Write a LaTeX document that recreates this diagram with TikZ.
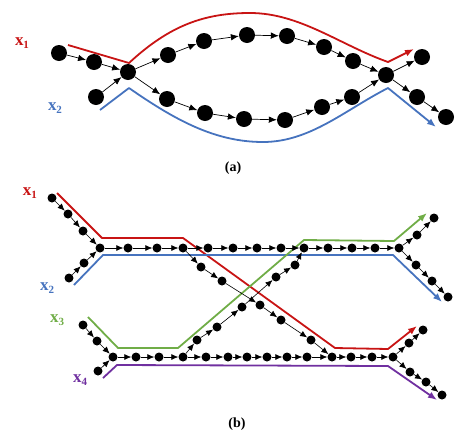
\documentclass[tikz,border=0pt]{standalone}
\usepackage{fontspec}
\setmainfont{Liberation Serif}
\usepackage{tikz}
\usetikzlibrary{arrows.meta}
\definecolor{flowred}{RGB}{200,20,20}
\definecolor{flowblue}{RGB}{70,115,190}
\definecolor{flowgreen}{RGB}{112,173,71}
\definecolor{flowpurple}{RGB}{112,48,160}
\newcommand{\flowlab}[1]{x\raisebox{-0.3ex}{\fontsize{11}{12}\selectfont #1}}

\begin{document}
\begin{tikzpicture}[x=1pt, y=-1pt, >=Latex,
  bigdot/.style={circle,fill=black,inner sep=0pt,minimum size=16pt},
  smalldot/.style={circle,fill=black,inner sep=0pt,minimum size=9pt},
  bigarr/.style={->,>={Latex[length=8pt,width=6.5pt]},line width=0.7pt},
  smallarr/.style={->,>={Latex[length=7pt,width=6pt]},line width=0.6pt},
  flow/.style={line width=1.8pt,line join=round},
  flowarr/.style={flow,->,>={Latex[length=9pt,width=7pt]}},
  lab/.style={font=\bfseries\fontsize{17}{19}\selectfont},
  captext/.style={font=\bfseries\fontsize{14}{16}\selectfont}]
  \useasboundingbox (0,0) rectangle (474,437);

  % (a) flows
  \draw[flowarr,flowred] (68,45) -- (129,63) .. controls (170,25) and (205,13) .. (250,13)
    .. controls (300,13) and (340,45) .. (388,62) -- (414,49);
  \draw[flowarr,flowblue] (100,110) -- (129,88) .. controls (175,120) and (215,142) .. (263,142)
    .. controls (310,142) and (345,110) .. (388,88) -- (436,127);
  \node[lab,flowred] (xa1) at (22,43) {\flowlab{1}};
  \node[lab,flowblue] (xa2) at (55,108) {\flowlab{2}};
  % (a) nodes
  \foreach \n/\x/\y in {s1/59/53, s2/94/62, s3/96/97, j1/128/72,
      u1/168/55, u2/204/41, u3/247/35, u4/287/36, u5/324/47, u6/353/61,
      w1/167/99, w2/205/113, w3/244/119, w4/285/120, w5/322/107, w6/352/97,
      j2/386/75, r1/422/57, q1/417/97, q2/446/117}
    \node[bigdot] (\n) at (\x,\y) {};
  \foreach \s/\t in {s1/s2, s2/j1, s3/j1, j1/u1, u1/u2, u2/u3, u3/u4, u4/u5, u5/u6, u6/j2,
      j1/w1, w1/w2, w2/w3, w3/w4, w4/w5, w5/w6, w6/j2, j2/r1, j2/q1, q1/q2}
    \draw[bigarr] (\s) -- (\t);
  \node[captext] (capa) at (233,168) {(a)};

  % (b) flows
  \draw[flowarr,flowred] (57,193) -- (102,238) -- (183,238) -- (335,348) -- (388,349) -- (417,326);
  \draw[flowarr,flowblue] (74,285) -- (103,255) -- (393,255) -- (442,302);
  \draw[flowarr,flowgreen] (88,317) -- (118,348) -- (178,348) -- (304,240) -- (394,241) -- (427,213);
  \draw[flowarr,flowpurple] (103,378) -- (117,365) -- (388,366) -- (437,400);
  \node[lab,flowred] (xb1) at (30,193) {\flowlab{1}};
  \node[lab,flowblue] (xb2) at (47,288) {\flowlab{2}};
  \node[lab,flowgreen] (xb3) at (57,320) {\flowlab{3}};
  \node[lab,flowpurple] (xb4) at (80,380) {\flowlab{4}};
  % (b) lanes
  \foreach \x [count=\i] in {100,128,157,183,208,233,257,281,304,328,352,375,399}
    \node[smalldot] (t\i) at (\x,248) {};
  \foreach \x [count=\i] in {113,136,159,183,206,228,247,267,287,307,332,351,372,393}
    \node[smalldot] (b\i) at (\x,357) {};
  \foreach \i in {1,...,12}{
    \pgfmathtruncatemacro\j{\i+1}
    \draw[smallarr] (t\i) -- (t\j);}
  \foreach \i in {1,...,13}{
    \pgfmathtruncatemacro\j{\i+1}
    \draw[smallarr] (b\i) -- (b\j);}
  % (b) other nodes
  \foreach \n/\x/\y in {c1/52/198, c2/68/214, c3/83/231, d1/69/278, d2/84/263,
      e1/83/325, e2/97/341, f1/98/371,
      dd1/201/267, dd2/222/281, dd3/260/305, dd4/281/320, dd5/311/340,
      du1/197/340, du2/217/327, du3/242/307, du4/276/277, du5/295/265,
      k1/417/235, k2/434/218, n1/416/265, n2/432/281, n3/448/297,
      v1/409/343, v2/423/330, z1/410/372, z2/426/382, z3/442/395}
    \node[smalldot] (\n) at (\x,\y) {};
  \foreach \s/\t in {c1/c2, c2/c3, c3/t1, d1/d2, d2/t1, e1/e2, e2/b1, f1/b1,
      t4/dd1, dd1/dd2, dd2/dd3, dd3/dd4, dd4/dd5, dd5/b11,
      b4/du1, du1/du2, du2/du3, du3/du4, du4/du5, du5/t9,
      t13/k1, k1/k2, t13/n1, n1/n2, n2/n3,
      b14/v1, v1/v2, b14/z1, z1/z2, z2/z3}
    \draw[smallarr] (\s) -- (\t);
  \node[captext] (capb) at (237,424) {(b)};
\end{tikzpicture}
\end{document}
